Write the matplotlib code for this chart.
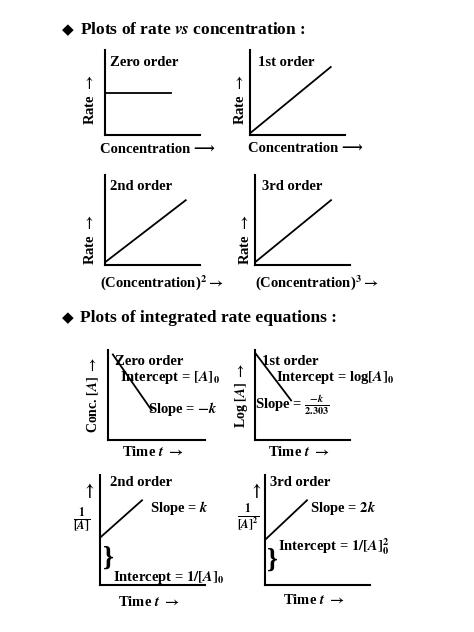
import matplotlib
matplotlib.use("Agg")
import matplotlib.pyplot as plt

plt.rcParams['font.family'] = ['Liberation Serif', 'DejaVu Serif', 'DejaVu Sans']
plt.rcParams['font.weight'] = 'bold'
plt.rcParams['mathtext.fontset'] = 'stix'

W, H = 474, 632
boxes = [(105, 50, 200, 135), (250, 50, 345, 135),
         (105, 175, 200, 265), (255, 175, 350, 265),
         (108, 350, 205, 440), (255, 350, 350, 440),
         (100, 475, 205, 585), (265, 475, 370, 585)]
line_x = [[0, 0.7], [0, 0.85], [0, 0.85], [0, 0.8],
          [0.05, 0.45], [0.0, 0.38], [0.0, 0.4], [0.0, 0.4]]
line_y = [[0.5, 0.5], [0.02, 0.8], [0.03, 0.72], [0.03, 0.72],
          [0.95, 0.33], [0.97, 0.44], [0.43, 0.77], [0.41, 0.77]]
titles = ["Zero order", "1st order", "2nd order", "3rd order",
          "Zero order", "1st order", "2nd order", "3rd order"]

fig = plt.figure(figsize=(W/100, H/100), dpi=100)
fig.patch.set_facecolor('white')

def fx(x): return x / W
def fy(y): return 1 - y / H

for (l, t, r, b), xs, ys in zip(boxes, line_x, line_y):
    ax = fig.add_axes([fx(l), fy(b), (r-l)/W, (b-t)/H])
    ax.set_xlim(0, 1); ax.set_ylim(0, 1)
    ax.plot(xs, ys, color='black', lw=1.3)
    for s in ['top', 'right']:
        ax.spines[s].set_visible(False)
    for s in ['left', 'bottom']:
        ax.spines[s].set_linewidth(1.5)
    ax.set_xticks([]); ax.set_yticks([])
    ax.patch.set_alpha(0)

def T(x, y, s, size=11, **kw):
    fig.text(fx(x), fy(y), s, fontsize=size, fontweight='bold', va='center', **kw)

AR = "$\\rightarrow$"
AR2 = "$\\rightarrow\\!\\!\\!\\rightarrow$"
T(62, 30, "◆", 11, family='DejaVu Sans')
T(80, 30, "Plots of rate $\\mathbf{\\it{vs}}$ concentration :", 12.5)
T(62, 318, "◆", 11, family='DejaVu Sans')
T(80, 318, "Plots of integrated rate equations :", 12.5)

title_pos = [(110, 62), (258, 62), (110, 187), (262, 187),
             (115, 361), (262, 361), (110, 482), (270, 482)]
for (x, y), s in zip(title_pos, titles):
    T(x, y, s, 10.5)

for x, y in [(90, 100), (240, 100), (90, 240), (245, 240)]:
    T(x, y, "Rate " + AR, 10.5, rotation=90, ha='center')
T(100, 150, "Concentration ⟶", 10.5)
T(248, 148, "Concentration ⟶", 10.5)
T(100, 283, "(Concentration)$^2$" + AR, 10.5)
T(255, 283, "(Concentration)$^3$" + AR, 10.5)

T(120, 378, "Intercept = $[A]_0$", 10.5)
T(148, 409, "Slope = $-k$", 10.5)
T(93, 395, "Conc. $[A]$ " + AR, 10, rotation=90, ha='center')
T(122, 452, "Time $t$ " + AR, 10.5)
T(276, 378, "Intercept = log$[A]_0$", 10.5)
T(255, 405, "Slope = $\\frac{-k}{2.303}$", 10.5)
T(242, 395, "Log $[A]$ " + AR, 10, rotation=90, ha='center')
T(268, 452, "Time $t$ " + AR, 10.5)

T(150, 508, "Slope = $k$", 10.5)
T(113, 577, "Intercept = $1/[A]_0$", 10.5)
T(82, 520, "$\\frac{1}{[A]}$", 12, ha='center')
T(88, 490, "$\\uparrow$", 12, ha='center')
T(103, 558, "}", 20)
T(118, 602, "Time $t$ " + AR, 10.5)

T(310, 508, "Slope = $2k$", 10.5)
T(278, 547, "Intercept = $1/[A]_0^2$", 10.5)
T(248, 518, "$\\frac{1}{[A]^2}$", 12, ha='center')
T(255, 490, "$\\uparrow$", 12, ha='center')
T(267, 560, "}", 20)
T(283, 600, "Time $t$ " + AR, 10.5)

fig.savefig("out.png", dpi=100)
